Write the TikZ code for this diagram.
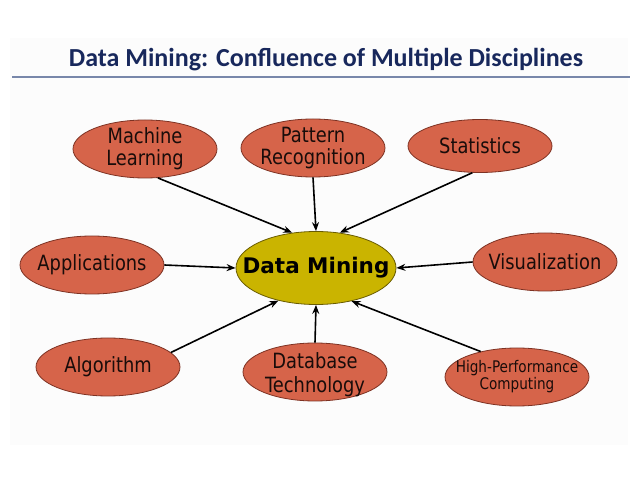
\documentclass[tikz,border=0pt]{standalone}
\usepackage{fontspec}
\setmainfont[FakeStretch=0.85]{DejaVu Sans}
\newfontfamily\boldlab{DejaVu Sans Bold}
\newfontfamily\titlefont{Carlito}
\usetikzlibrary{shapes.geometric,arrows.meta}
\definecolor{ellfill}{RGB}{214,100,74}
\definecolor{elldraw}{RGB}{125,50,35}
\definecolor{dmfill}{RGB}{202,180,0}
\definecolor{dmdraw}{RGB}{105,92,0}
\definecolor{titleblue}{RGB}{24,40,92}
\definecolor{rulecol}{RGB}{120,135,170}
\definecolor{panel}{RGB}{252,252,252}
\definecolor{labtext}{RGB}{25,12,10}
\tikzset{
  ell/.style={ellipse, draw=elldraw, line width=0.8pt, fill=ellfill, inner sep=0pt,
    minimum width=144pt, minimum height=58pt},
  lab/.style={align=center, text=labtext, inner sep=0pt, font=\fontsize{21}{22}\selectfont},
  dmnode/.style={ellipse, draw=dmdraw, line width=0.8pt, fill=dmfill, inner sep=0pt,
    minimum width=160pt, minimum height=73pt},
  conn/.style={line width=1.6pt, -{Stealth[length=9pt,width=7pt]}}
}
\begin{document}
\begin{tikzpicture}[x=1pt,y=-1pt]
\useasboundingbox (0,0) rectangle (638,478);
\fill[white] (0,0) rectangle (638,478);
\fill[panel] (10,38) rectangle (628,445);
% title
\node[anchor=base, text=titleblue, inner sep=0pt, font=\titlefont\bfseries\fontsize{26}{28}\selectfont] (title) at (326,67) {Data Mining: Confluence of Multiple Disciplines};
\coordinate (rl) at (12,77);
\coordinate (rr) at (630,77);
\draw[rulecol, line width=1.2pt] (rl) -- (rr);
% central node
\node[dmnode, label={[lab, font=\boldlab\fontsize{21.5}{23}\selectfont, text=black]center:Data Mining}] (dm) at (316,268) {};
% outer nodes
\node[ell, label={[lab]center:{Machine\\Learning}}] (ml) at (145,149) {};
\node[ell, label={[lab]center:{Pattern\\Recognition}}] (pr) at (313,148) {};
\node[ell, minimum height=53pt, label={[lab]center:Statistics}] (st) at (480,146) {};
\node[ell, label={[lab]center:Applications}] (ap) at (92,265) {};
\node[ell, label={[lab]center:Visualization}] (vi) at (545,262) {};
\node[ell, label={[lab]center:Algorithm}] (ag) at (108,367) {};
\node[ell, label={[lab, yshift=-3pt, font=\fontsize{21}{24}\selectfont]center:{Database\\Technology}}] (db) at (315,372) {};
\node[ell, label={[lab, font=\fontsize{16}{17}\selectfont]center:{High-Performance\\Computing}}] (hp) at (517,377) {};
% connectors
\draw[conn] (ml.-66) -- (dm.124);
\draw[conn] (pr.south) -- (dm.north);
\draw[conn] (st.-106) -- (dm.56);
\draw[conn] (ap.east) -- (dm.west);
\draw[conn] (vi.west) -- (dm.east);
\draw[conn] (ag.13) -- (dm.-139);
\draw[conn] (db.north) -- (dm.south);
\draw[conn] (hp.145) -- (dm.-43);
\end{tikzpicture}
\end{document}
